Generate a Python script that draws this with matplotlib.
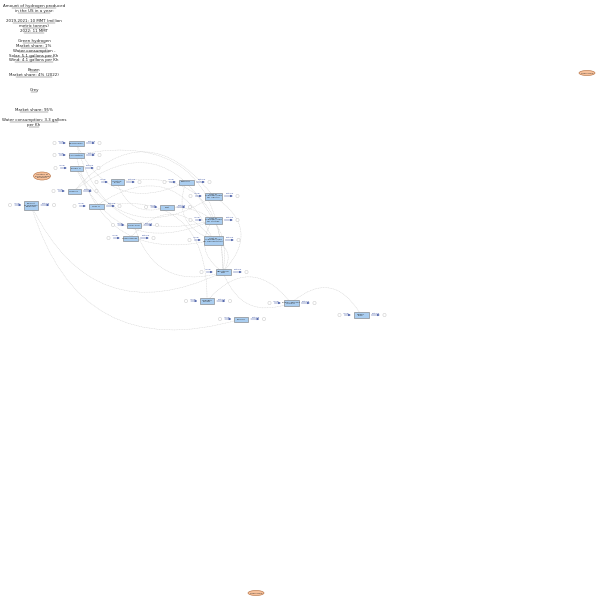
import matplotlib
matplotlib.use("Agg")
import matplotlib.pyplot as plt
from matplotlib.patches import Rectangle, Ellipse, Circle, FancyArrowPatch

notes = ["Amount of hydrogen produced", "in the US in a year:", "",
         "2019-2021: 10 MMT (million", "metric tonnes)", "2022: 11 MMT", "",
         "Green hydrogen", "Market share: 1%", "Water consumption -",
         "Solar: 5.1 gallons per Kh", "Wind: 4.1 gallons per Kh", "",
         "Brown", "Market share: 4% (2022)", "", "", "Grey", "", "", "",
         "Market share: 95%", "", "Water consumption: 3.3 gallons", "per Kh"]

box_labels = ["Bio-Economy", "CCS System", "Brown H", "Green H", "amount\nof hydrogen\nproduced",
              "Grey H", "Industrial\nsector", "Revenue", "Cost", "Cost of\nhydrogen used\nfor Industry",
              "Small Fuel", "Green Energy", "Cost of\nhydrogen used\nfor Utilities",
              "Cost of\nhydrogen used\nfor Transportation", "Operational\nCost",
              "Hydrogen\nstoring", "Energy demand\nindicator", "Pipeline", "Carbon\nprice"]
box_xy = [(76,143),(76,155),(76,168),(74,191),(31,205),(96,206),(117,182),(186,182),
          (167,207),(213,196),(134,225),(130,238),(213,220),(213,240),(223,272),
          (207,301),(291,303),(241,319),(361,315)]
box_wh = [(15,5),(15,5),(13,5),(13,5),(14,9),(15,5),(13,6),(15,5),(14,5),(17,7),
          (14,5),(15,5),(17,7),(19,9),(15,6),(14,6),(15,6),(14,5),(15,6)]

ellipse_labels = ["Inflation of\ngreen energy\nresources", "Time Scale", "Time Scale"]
ellipse_xy = [(42,176),(587,73),(256,593)]
ellipse_wh = [(17,8),(16,5),(16,5)]

fig = plt.figure(figsize=(5.99, 6.0), dpi=100)
ax = fig.add_axes([0, 0, 1, 1])
ax.set_xlim(0, 599); ax.set_ylim(600, 0); ax.axis("off")

for i, t in enumerate(notes):
    if t:
        ax.text(34, 6 + i*4.95, t, ha="center", va="center", fontsize=2.9,
                family="DejaVu Sans", color="#222")
        w = len(t)*1.6
        ax.plot([34-w/2, 34+w/2], [7.9 + i*4.95]*2, color="#444", lw=0.3)

pairs = [(0,7),(1,14),(2,9),(3,12),(4,14),(5,13),(6,8),(8,14),(10,14),(11,13),
         (12,14),(13,14),(14,16),(15,16),(2,12),(3,9),(7,13),(9,14),(0,12),(5,15),
         (4,17),(16,18),(1,13),(6,14)]
for k, (a, b) in enumerate(pairs):
    (x1,y1),(x2,y2) = box_xy[a], box_xy[b]
    rad = -0.6 if k % 2 else 0.5
    arr = FancyArrowPatch((x1,y1),(x2,y2), connectionstyle=f"arc3,rad={rad}",
                          arrowstyle="-", ls=(0,(2,2)), lw=0.3, color="#c8c8c8")
    ax.add_patch(arr)

for lab, (x,y), (w,h) in zip(box_labels, box_xy, box_wh):
    ax.add_patch(Circle((x-w/2-14, y), 1.6, fc="white", ec="#ccc", lw=0.4))
    ax.add_patch(Circle((x+w/2+16, y), 1.6, fc="white", ec="#ccc", lw=0.4))
    ax.annotate("", xy=(x-w/2, y), xytext=(x-w/2-12, y),
                arrowprops=dict(arrowstyle="-|>", lw=0.4, color="#4a5fa8", mutation_scale=3))
    ax.annotate("", xy=(x+w/2+14, y), xytext=(x+w/2, y),
                arrowprops=dict(arrowstyle="-|>", lw=0.4, color="#4a5fa8", mutation_scale=3))
    ax.text(x-w/2-7, y-1.5, "inflow", fontsize=1.6, ha="center", color="#4a5fa8")
    ax.text(x+w/2+8, y-1.5, "outflow", fontsize=1.6, ha="center", color="#4a5fa8")
    ax.add_patch(Rectangle((x-w/2, y-h/2), w, h, fc="#a9cdf0", ec="#777", lw=0.4, zorder=3))
    ax.text(x, y, lab, ha="center", va="center", fontsize=1.6, color="#333", zorder=4)

for lab, (x,y), (w,h) in zip(ellipse_labels, ellipse_xy, ellipse_wh):
    ax.add_patch(Ellipse((x,y), w, h, fc="#f6c09a", ec="#b06a3a", lw=0.4, zorder=3))
    ax.text(x, y, lab, ha="center", va="center", fontsize=1.6, color="#333", zorder=4)

fig.savefig("out.png", dpi=100)
